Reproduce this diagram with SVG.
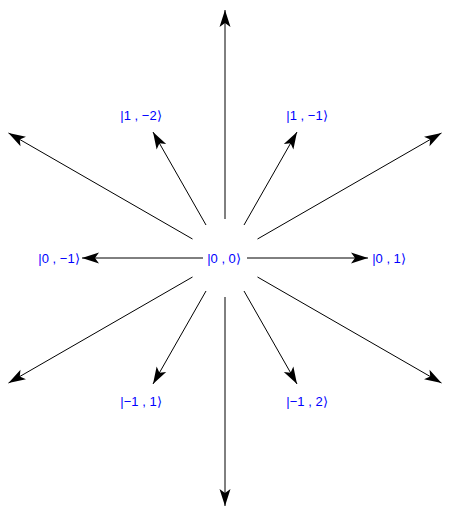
<svg xmlns="http://www.w3.org/2000/svg" width="450" height="517" viewBox="0 0 450 517">
<style>
.edge{stroke:#000;stroke-width:1;fill:none;marker-end:url(#ah)}
.lbl{font-family:"Liberation Sans",Arial,sans-serif;font-size:13px;fill:#0000ff;text-anchor:middle}
</style>
<defs>
<marker id="ah" markerUnits="userSpaceOnUse" markerWidth="20" markerHeight="14" viewBox="-18 -7 20 14" refX="0" refY="0" orient="auto" overflow="visible">
<path d="M0,0 L-17,-5.5 L-13,0 L-17,5.5 Z" fill="#000"/>
</marker>
</defs>
<rect width="450" height="517" fill="#fff"/>
<g id="connectors">
<line class="edge" x1="225" y1="219" x2="225" y2="10"/>
<line class="edge" x1="225" y1="297" x2="225" y2="506"/>
<line class="edge" x1="203" y1="258" x2="82" y2="258"/>
<line class="edge" x1="247" y1="258" x2="368" y2="258"/>
<line class="edge" x1="192.5" y1="239" x2="8.5" y2="133"/>
<line class="edge" x1="257.5" y1="239" x2="441.5" y2="133"/>
<line class="edge" x1="192.5" y1="277" x2="8.5" y2="383"/>
<line class="edge" x1="257.5" y1="277" x2="441.5" y2="383"/>
<line class="edge" x1="206" y1="225" x2="153" y2="132"/>
<line class="edge" x1="244" y1="225" x2="297" y2="132"/>
<line class="edge" x1="206" y1="291" x2="153" y2="384"/>
<line class="edge" x1="244" y1="291" x2="297" y2="384"/>
</g>
<g id="n00"><text class="lbl" x="224" y="262.5">|0 , 0⟩</text></g>
<g id="n1m2"><text class="lbl" x="141" y="120">|1 , −2⟩</text></g>
<g id="n1m1"><text class="lbl" x="307" y="120">|1 , −1⟩</text></g>
<g id="n0m1"><text class="lbl" x="59" y="262.5">|0 , −1⟩</text></g>
<g id="n01"><text class="lbl" x="389" y="262.5">|0 , 1⟩</text></g>
<g id="nm11"><text class="lbl" x="141" y="406">|−1 , 1⟩</text></g>
<g id="nm12"><text class="lbl" x="307" y="406">|−1 , 2⟩</text></g>
</svg>
